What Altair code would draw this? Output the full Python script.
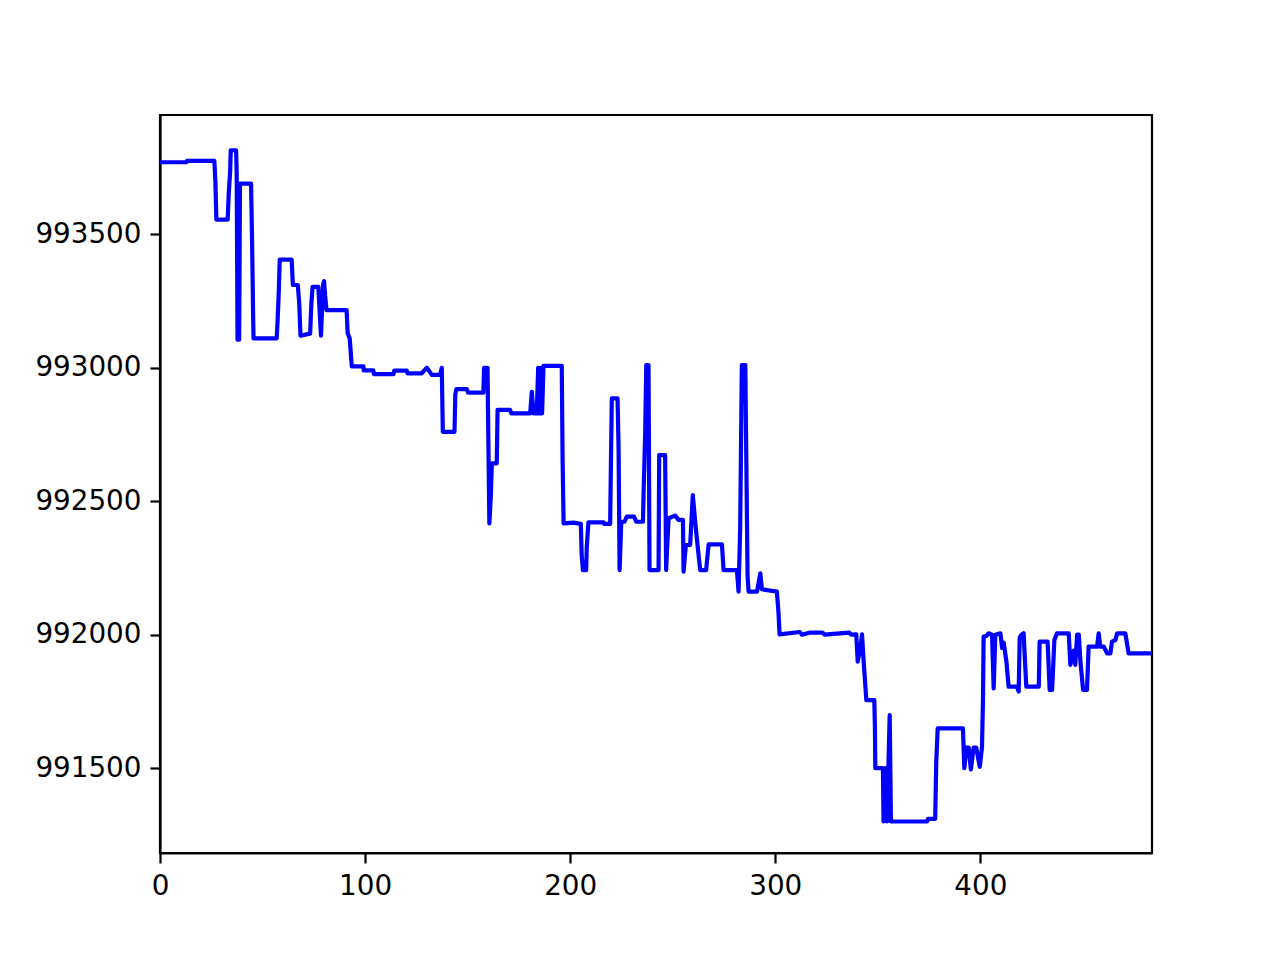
import altair as alt
import pandas as pd

# vertices of the step-like trace
xs = [
    0, 13, 13.2, 26.5, 27, 27.5, 33, 33.5, 34.2, 34.5, 37.1, 37.4, 37.8, 38.2, 38.6, 39.0,
    44.4, 44.9, 45.4, 45.6, 56.9, 57.3, 57.9, 58.4, 64.2, 64.8, 67.2, 67.9, 68.5, 73.2,
    73.8, 74.4, 77.2, 78.5, 79.5, 80.0, 80.5, 81.2, 91, 91.5, 92.5, 93.5, 99.2,
    99.3, 104, 104.3, 113.8, 114.2, 120.3, 120.7, 127.6, 130.1, 132.6, 136.6, 137.4, 137.9,
    143.6, 144.0, 144.5, 149.6, 150.2, 157.7, 158.0, 159.7, 160.2, 160.6, 161.3, 161.8,
    164.2, 164.6, 170.7, 171.3, 180.5, 181.3, 182.1, 183.7, 184.4, 185.0, 185.6, 186.3,
    187.0, 195.9,
    196.3, 196.8, 201.6, 205.2, 205.6, 206.2, 207.8, 208.1, 208.9, 216.3, 216.6, 219.5,
    219.8, 220.3, 223.1, 223.6, 224.1, 224.9, 226.5, 227.6, 231.2, 232.2, 235.5, 235.8,
    236.6, 237.1, 238.2, 238.7, 243.1, 243.4, 246.3, 246.8, 247.3, 248, 251.2, 252.8, 255,
    255.3, 256.4, 258.5, 259.8, 261, 262.1, 263.4, 266.3, 267.5, 274, 274.8, 281.3, 282.1,
    282.9, 283.7, 285.4, 285.9, 286.5, 287, 291.1, 292.7, 293.5, 300.8, 301.6, 302.1,
    312, 313, 317, 323, 324, 336, 337, 339.5, 340.2, 341.5, 342.3, 343.1, 343.9, 344.4,
    348.3, 348.6, 348.8, 352.5, 352.8, 353.7, 354.5, 355.8, 356.4, 374, 374.5, 378,
    378.5, 379.2, 391.5, 392.2, 393.2, 394.3, 395.4, 396.7, 398, 399.7, 400.8, 401.3,
    401.6, 403, 404, 405.7, 406.5, 407.3, 409.8, 410.6, 411.4, 412.7, 413.8, 417.9,
    418.7, 419.2, 420, 421.1, 422.4, 428.5, 428.9, 432.8, 433.8, 435, 436.1, 437.4,
    443.1, 443.9, 445.5, 446.3, 447.2, 448, 448.8, 450.1, 452, 452.8, 456.9, 457.7,
    458.5, 460.2, 461.8, 463.4, 464.2, 465.9, 466.7, 470.7, 472.3, 483.7,
]
ys = [
    993770, 993770, 993775, 993775, 993700, 993555, 993555, 993650, 993735, 993815, 993815,
    993730, 993105, 993400, 993105, 993690,
    993690, 993475, 993200, 993110, 993110, 993170, 993280, 993405, 993405, 993310, 993310,
    993240, 993120, 993128,
    993240, 993303, 993303, 993120, 993310, 993325, 993270, 993216, 993216, 993130, 993110,
    993005, 993005,
    992990, 992990, 992976, 992976, 992989, 992989, 992979, 992979, 993000, 992973, 992973,
    993000, 992760,
    992760, 992900, 992920, 992920, 992907, 992907, 993000, 993000, 992673, 992417, 992520,
    992642,
    992642, 992842, 992842, 992829, 992829, 992910, 992829, 992829, 993000, 992829, 993000,
    992829,
    993007, 993007,
    992660, 992417, 992420, 992415, 992300, 992242, 992242, 992330, 992421, 992421, 992415,
    992415,
    992600, 992885, 992885, 992700, 992242, 992423, 992423, 992442, 992442, 992423, 992423,
    992530,
    992760, 993010, 993010, 992242, 992242, 992673, 992673, 992242, 992330, 992436, 992446,
    992430, 992430,
    992236, 992336, 992336, 992523, 992420, 992336, 992242, 992242, 992338, 992338, 992242,
    992242, 992161,
    992400, 993010, 993010, 992650, 992220, 992161, 992161, 992230, 992170, 992161, 992080,
    992001,
    992010, 992000, 992008, 992008, 992000, 992008, 992000, 992001, 991899, 991950, 992001,
    991899, 991812, 991755,
    991755, 991650, 991500, 991500, 991300, 991500, 991300, 991699, 991300, 991300, 991310,
    991310,
    991524, 991649, 991649, 991500, 991577, 991577, 991495, 991577, 991577, 991505, 991577,
    991762,
    991993, 991995, 992005, 992000, 991799, 992000, 992005, 991950, 991970, 991900, 991805,
    991805,
    991787, 991990, 991999, 992005, 991805, 991805, 991974, 991974, 991793, 991793, 991980,
    992005,
    992005, 991887, 991940, 991887, 992000, 992000, 991900, 991793, 991793, 991955, 991955,
    992005,
    991955, 991955, 991930, 991930, 991974, 991980, 992005, 992005, 991930, 991930,
]

x_ticks = [0, 100, 200, 300, 400]
y_ticks = [991500, 992000, 992500, 993000, 993500]

df = pd.DataFrame({"i": range(len(xs)), "x": xs, "y": ys})

line = (
    alt.Chart(df)
    .mark_line(color="#0000ff", strokeWidth=4.2, strokeJoin="round", strokeCap="square", clip=True)
    .encode(
        x=alt.X("x:Q", scale=alt.Scale(domain=[0, 483.7], nice=False, zero=False),
                axis=alt.Axis(values=x_ticks, format="d", title=None)),
        y=alt.Y("y:Q", scale=alt.Scale(domain=[991182, 993947], nice=False, zero=False),
                axis=alt.Axis(values=y_ticks, format="d", title=None)),
        order="i:Q",
    )
)

# note: .configure(...) would wipe the config below, so background goes in properties
chart = (
    line.properties(
        width=992,
        height=738,
        background="white",
        autosize=alt.AutoSizeParams(type="none"),
        padding={"left": 152, "top": 107, "right": 120, "bottom": 99},
    )
    .configure_view(stroke="black", strokeWidth=2.2)
    .configure_axis(
        grid=False,
        domainColor="black",
        domainWidth=2.2,
        tickColor="black",
        tickWidth=2.2,
        tickSize=10,
        labelFont="DejaVu Sans",
        labelFontSize=27.8,
        labelColor="black",
        labelPadding=9,
        labelFlush=False,
    )
)

chart.save("out.html", embed_options={"renderer": "svg", "actions": False})
